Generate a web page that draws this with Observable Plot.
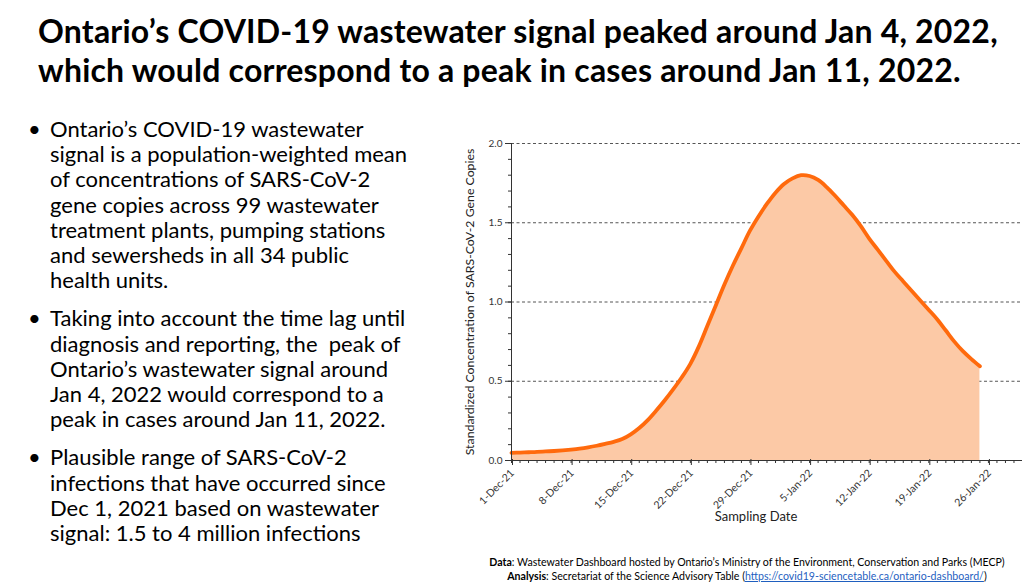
<!DOCTYPE html>
<html>
<head>
<meta charset="utf-8">
<script src="https://cdn.jsdelivr.net/npm/d3@7"></script>
<script src="https://cdn.jsdelivr.net/npm/@observablehq/plot@0.6"></script>
<style>
  html, body { margin: 0; padding: 0; background: #fff; }
  body { width: 1024px; height: 585px; position: relative; overflow: hidden; font-family: Lato, "Open Sans", sans-serif; color: #000; }
  #title { position: absolute; left: 38px; top: 12px; font-weight: 700; font-size: 32px; line-height: 38.5px; letter-spacing: 0.2px; white-space: nowrap; }
  #bullets { position: absolute; left: 28px; top: 116px; font-size: 22px; line-height: 25.2px; }
  .b { position: relative; padding-left: 22px; white-space: nowrap; }
  .b::before { content: "•"; position: absolute; left: 0; top: 0; }
  #chart { position: absolute; left: 440px; top: 130px; }
  #foot { position: absolute; left: 447px; width: 600px; top: 555px; font-size: 10.6px; line-height: 14px; text-align: center; white-space: nowrap; }
  #foot a { color: #1f5fbf; text-decoration: underline; }
</style>
</head>
<body>
<div id="title">Ontario’s COVID-19 wastewater signal peaked around Jan 4, 2022,<br>which would correspond to a peak in cases around Jan 11, 2022.</div>
<div id="bullets">
  <div class="b">Ontario’s COVID-19 wastewater<br>signal is a population-weighted mean<br>of concentrations of SARS-CoV-2<br>gene copies across 99 wastewater<br>treatment plants, pumping stations<br>and sewersheds in all 34 public<br>health units.</div>
  <div class="b" style="margin-top:13px">Taking into account the time lag until<br>diagnosis and reporting, the&nbsp; peak of<br>Ontario’s wastewater signal around<br>Jan 4, 2022 would correspond to a<br>peak in cases around Jan 11, 2022.</div>
  <div class="b" style="margin-top:13px">Plausible range of SARS-CoV-2<br>infections that have occurred since<br>Dec 1, 2021 based on wastewater<br>signal: 1.5 to 4 million infections</div>
</div>
<div id="chart"></div>
<div id="foot"><b>Data</b>: Wastewater Dashboard hosted by Ontario’s Ministry of the Environment, Conservation and Parks (MECP)<br><b>Analysis</b>: Secretariat of the Science Advisory Table (<a>https://covid19-sciencetable.ca/ontario-dashboard/</a>)</div>
<script>
// Sampling dates (daily)
const sampleDates = [
  "2021-12-01","2021-12-02","2021-12-03","2021-12-04","2021-12-05","2021-12-06","2021-12-07",
  "2021-12-08","2021-12-09","2021-12-10","2021-12-11","2021-12-12","2021-12-13","2021-12-14",
  "2021-12-15","2021-12-16","2021-12-17","2021-12-18","2021-12-19","2021-12-20","2021-12-21",
  "2021-12-22","2021-12-23","2021-12-24","2021-12-25","2021-12-26","2021-12-27","2021-12-28",
  "2021-12-29","2021-12-30","2021-12-31","2022-01-01","2022-01-02","2022-01-03","2022-01-04",
  "2022-01-05","2022-01-06","2022-01-07","2022-01-08","2022-01-09","2022-01-10","2022-01-11",
  "2022-01-12","2022-01-13","2022-01-14","2022-01-15","2022-01-16","2022-01-17","2022-01-18",
  "2022-01-19","2022-01-20","2022-01-21","2022-01-22","2022-01-23","2022-01-24","2022-01-25"
];
// Standardized concentration of SARS-CoV-2 gene copies
const signal = [
  0.048,0.050,0.052,0.054,0.057,0.060,0.064,
  0.069,0.075,0.083,0.093,0.105,0.118,0.135,
  0.165,0.205,0.255,0.315,0.380,0.450,0.525,
  0.610,0.720,0.850,0.980,1.110,1.230,1.340,
  1.450,1.540,1.620,1.690,1.745,1.780,1.800,
  1.795,1.770,1.725,1.670,1.610,1.550,1.480,
  1.400,1.330,1.260,1.190,1.130,1.070,1.010,
  0.950,0.890,0.820,0.750,0.690,0.640,0.595
];
const xDomain = ["2021-12-01", "2022-01-30"];
const yMajorTicks = [0, 0.5, 1.0, 1.5, 2.0];
const yGridTicks = [0.5, 1.0, 1.5, 2.0];
const xLabel = "Sampling Date";
const yLabel = "Standardized Concentration of SARS-CoV-2 Gene Copies";

const data = sampleDates.map((d, i) => ({date: new Date(d + "T00:00:00Z"), value: signal[i]}));
const x0 = new Date(xDomain[0] + "T00:00:00Z");
const x1 = new Date(xDomain[1] + "T00:00:00Z");
const weekTicks = d3.utcWednesday.range(x0, x1);
const dayTicks = d3.utcDay.range(x0, x1);
const yMinor = d3.range(0, 21).map(i => i / 10);
const fmt = d3.utcFormat("%-d-%b-%y");

const chart = Plot.plot({
  width: 584,
  height: 400,
  marginLeft: 71,
  marginRight: 2,
  marginTop: 13,
  marginBottom: 70,
  style: {fontFamily: "Lato, 'Open Sans', sans-serif", fontSize: "10px", color: "#333", background: "transparent"},
  x: {type: "utc", domain: [x0, x1]},
  y: {domain: [0, 2]},
  marks: [
    Plot.gridY(yGridTicks, {stroke: "#555", strokeOpacity: 1, strokeWidth: 1, strokeDasharray: "3,2.5"}),
    Plot.areaY(data, {x: "date", y: "value", fill: "#fcc9a6", curve: "catmull-rom"}),
    Plot.lineY(data, {x: "date", y: "value", stroke: "#ff6a0d", strokeWidth: 3.8, curve: "catmull-rom", strokeLinecap: "round"}),
    Plot.axisX(dayTicks, {tickSize: 3, text: null, stroke: "#333", label: null}),
    Plot.axisX(weekTicks, {tickSize: 6, tickFormat: fmt, tickRotate: -45, textAnchor: "end", dy: -1, dx: 1, fill: "#333", stroke: "#333", fontSize: 10.5, label: null}),
    Plot.axisY(yMinor, {tickSize: 3, text: null, stroke: "#333", label: null}),
    Plot.axisY(yMajorTicks, {tickSize: 6, tickFormat: d3.format(".1f"), fill: "#333", stroke: "#333", fontSize: 10, label: null}),
    Plot.ruleX([x0], {stroke: "#333", strokeWidth: 1}),
    Plot.ruleY([0], {stroke: "#333", strokeWidth: 1}),
    Plot.text([xLabel], {frameAnchor: "bottom", dy: 60, dx: -11, fontSize: 13, fill: "#222", text: d => d}),
    Plot.text([yLabel], {frameAnchor: "left", textAnchor: "middle", dx: -41, rotate: -90, fontSize: 12.3, fill: "#222", text: d => d})
  ]
});
document.getElementById("chart").appendChild(chart);
</script>
</body>
</html>
